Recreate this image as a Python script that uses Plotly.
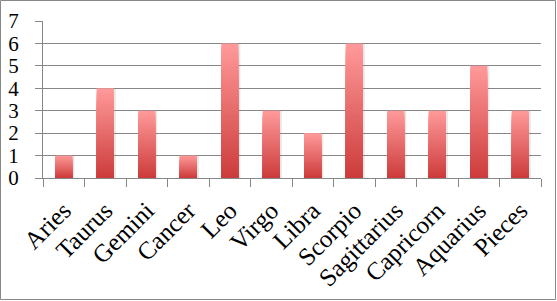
import plotly.graph_objects as go

categories = ["Aries", "Taurus", "Gemini", "Cancer", "Leo", "Virgo", "Libra",
              "Scorpio", "Sagittarius", "Capricorn", "Aquarius", "Pieces"]
values = [1, 4, 3, 1, 6, 3, 2, 6, 3, 3, 5, 3]
y_ticks = [0, 1, 2, 3, 4, 5, 6, 7]

W, H = 557, 301
ML, MR, MT, MB = 43, 16, 21, 123

top_rgb = (255, 153, 153)
bot_rgb = (204, 58, 58)
N = 40
BW = 0.41

fig = go.Figure()
# soft shadow to the right of each bar
fig.add_trace(go.Bar(
    x=categories, y=values, width=BW, offset=-BW / 2 + 0.05,
    marker=dict(color="rgba(120,120,120,0.18)", line=dict(width=0)),
    hoverinfo="skip", showlegend=False,
))
for k in range(N):
    f = 1 - k / N
    c = tuple(round(bot_rgb[i] + (top_rgb[i] - bot_rgb[i]) * f) for i in range(3))
    fig.add_trace(go.Bar(
        x=categories, y=[v * f for v in values], width=BW, offset=-BW / 2,
        marker=dict(color="rgb(%d,%d,%d)" % c, line=dict(width=0)),
        hoverinfo="skip", showlegend=False,
    ))

grid = "#878787"
font = "Liberation Serif, Times New Roman, serif"
fig.update_layout(
    width=W, height=H, barmode="overlay",
    margin=dict(l=ML, r=MR, t=MT, b=MB, autoexpand=False),
    paper_bgcolor="white", plot_bgcolor="white",
    font=dict(family=font, color="black"),
    xaxis=dict(
        type="category", tickangle=-45, tickfont=dict(size=25, family=font),
        showgrid=False, showline=True, linecolor=grid, linewidth=1,
        ticks="outside", ticklen=8, tickcolor=grid, tickson="boundaries",
        ticklabelstandoff=7, automargin=False,
    ),
    yaxis=dict(
        range=[0, 7], tickvals=y_ticks, tickfont=dict(size=21, family=font),
        showgrid=True, gridcolor=grid, gridwidth=1, zeroline=False,
        showline=True, linecolor=grid, linewidth=1,
        ticks="outside", ticklen=7, tickcolor=grid, ticklabelstandoff=12,
        automargin=False,
    ),
)

pw = W - ML - MR
ph = H - MT - MB
fig.add_shape(
    type="rect", xref="paper", yref="paper",
    x0=(0.5 - ML) / pw, x1=1 + (MR - 1.5) / pw,
    y0=-(MB - 1.5) / ph, y1=1 + (MT - 0.5) / ph,
    line=dict(color="#878787", width=1), fillcolor="rgba(0,0,0,0)", layer="above",
)

fig.write_html("out.html")
